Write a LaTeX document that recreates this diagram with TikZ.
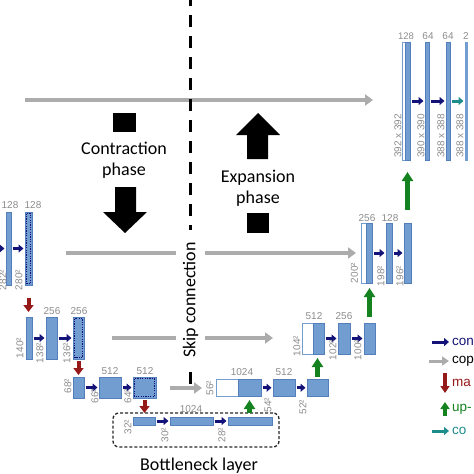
\documentclass[tikz,border=0pt]{standalone}
\usepackage{fontspec}
\setmainfont{Carlito}
\newfontfamily\lblfont{Liberation Sans}
\usetikzlibrary{arrows.meta,fit,calc}
\definecolor{bfill}{RGB}{114,157,209}
\definecolor{bline}{RGB}{84,126,188}
\definecolor{lgray}{RGB}{140,140,140}
\definecolor{cgray}{RGB}{172,172,172}
\definecolor{cnavy}{RGB}{18,18,120}
\definecolor{cred}{RGB}{150,25,25}
\definecolor{cgreen}{RGB}{20,130,30}
\definecolor{cteal}{RGB}{30,140,140}
\begin{document}
\begin{tikzpicture}[x=1pt,y=-1pt,
 blk/.style={draw=bline, fill=bfill, line width=0.5pt, inner sep=0pt, outer sep=0pt},
 wblk/.style={draw=bfill, fill=white, line width=0.7pt, inner sep=0pt, outer sep=0pt},
 dotbox/.style={draw=cnavy, line width=0.9pt, dash pattern=on 1.2pt off 1.2pt},
 num/.style={font=\lblfont\fontsize{10}{10}\selectfont, text=lgray, inner sep=0pt},
 rnum/.style={num, rotate=90},
 bigtxt/.style={font=\fontsize{18}{21}\selectfont, inner sep=0pt, align=center},
 legtxt/.style={font=\lblfont\fontsize{13.5}{14}\selectfont, inner sep=0pt, anchor=west},
 conv/.style={draw=cnavy, line width=3pt, -{Triangle[length=5pt,width=8pt]}, shorten <=1.5pt, shorten >=1.5pt},
 convt/.style={conv, draw=cteal},
 copyarr/.style={draw=cgray, line width=3.5pt, -{Triangle[length=8pt,width=11pt]}},
 pool/.style={draw=cred, line width=4pt, -{Triangle[length=7pt,width=10pt]}},
 upc/.style={draw=cgreen, line width=4.5pt, -{Triangle[length=9pt,width=11pt]}},
 skipline/.style={draw=black, line width=3pt, dash pattern=on 12pt off 9pt}
]
\useasboundingbox (0,0) rectangle (474,474);

% ---------- blocks ----------
% level 2 left
\node[blk, fit={(6,212)(11,285)}] (l2a) {};
\node[blk, fit={(25,212)(32,285)}] (l2b) {};
% level 3 left
\node[blk, fit={(26,317)(32,359)}] (l3a) {};
\node[blk, fit={(46,317)(57,359)}] (l3b) {};
\node[blk, fit={(73,317)(84,359)}] (l3c) {};
% level 4 left
\node[blk, fit={(73,377)(84,398)}] (l4a) {};
\node[blk, fit={(99,377)(121,398)}] (l4b) {};
\node[blk, fit={(133,377)(156,398)}] (l4c) {};
% bottleneck
\node[blk, fit={(133,417)(155,425)}] (bn1) {};
\node[blk, fit={(170,417)(213,425)}] (bn2) {};
\node[blk, fit={(228,417)(272,425)}] (bn3) {};
% level 4 right
\node[wblk, fit={(216,379.5)(238,396)}] (r4w) {};
\node[blk, fit={(238,379.5)(261,396)}] (r4a) {};
\node[blk, fit={(273,379.5)(295,396)}] (r4b) {};
\node[blk, fit={(307,379.5)(328,396)}] (r4c) {};
% level 3 right
\node[wblk, fit={(302,323)(313,354)}] (r3w) {};
\node[blk, fit={(313,323)(324,354)}] (r3a) {};
\node[blk, fit={(338,323)(350,354)}] (r3b) {};
\node[blk, fit={(364,323)(375,354)}] (r3c) {};
% level 2 right
\node[wblk, fit={(361,223)(366,283)}] (r2w) {};
\node[blk, fit={(366,223)(372,283)}] (r2a) {};
\node[blk, fit={(386,223)(392,283)}] (r2b) {};
\node[blk, fit={(404,223)(411,283)}] (r2c) {};
% level 1 right
\node[wblk, fit={(402,42)(405,160)}] (t0w) {};
\node[blk, fit={(405,42)(410,160)}] (t1) {};
\node[blk, fit={(425,42)(429,160)}] (t2) {};
\node[blk, fit={(446,42)(450,160)}] (t3) {};
\node[blk, draw=bfill, fit={(465,42)(467,160)}] (t4) {};

% dotted inner frames
\draw[dotbox] ([shift={(1.5,1.5)}]l2b.north west) rectangle ([shift={(-1.5,-1.5)}]l2b.south east);
\draw[dotbox] ([shift={(1.5,1.5)}]l3c.north west) rectangle ([shift={(-1.5,-1.5)}]l3c.south east);
\draw[dotbox] ([shift={(1.5,1.5)}]l4c.north west) rectangle ([shift={(-1.5,-1.5)}]l4c.south east);

% ---------- copy (skip) arrows ----------
\coordinate (c1s) at (25,100);
\coordinate (c2s) at (66,253);
\coordinate (c3s) at (112,338);
\coordinate (c4s) at (170,388);
\draw[copyarr, shorten >=29pt] (c1s) -- (t0w.west |- c1s);
\draw[copyarr, shorten >=5pt] (c2s) -- (r2w.west |- c2s);
\draw[copyarr, shorten >=29pt] (c3s) -- (r3w.west |- c3s);
\draw[copyarr, shorten >=14pt] (c4s) -- (r4w.west |- c4s);

% ---------- dashed separation line ----------
\coordinate (dl0) at (190,384);
\coordinate (dl1) at (190,0);
\draw[skipline] (dl0) -- (dl1);
\node[bigtxt, rotate=90, fill=white, inner xsep=12pt, inner ysep=7pt] (skip) at (190.5,300) {Skip connection};

% ---------- phase arrows ----------
\fill (113,113) rectangle (136,132);
\fill (115,187) -- (136,187) -- (136,212) -- (147,212) -- (125,233) -- (103,212) -- (115,212) -- cycle;
\node[bigtxt] (ctxt) at (124,160) {Contraction\\phase};
\fill (258,113) -- (280,135) -- (268,135) -- (268,159) -- (247,159) -- (247,135) -- (236,135) -- cycle;
\fill (247,213) rectangle (269,233);
\node[bigtxt] (etxt) at (258,188) {Expansion\\phase};

% bottleneck frame and title
\node[draw=black!85, line width=1.3pt, dash pattern=on 3pt off 2pt, rounded corners=6pt, inner sep=0pt, fit={(113,413)(279,447)}] (bnbox) {};
\node[bigtxt] (bntxt) at (199,466) {Bottleneck layer};

% ---------- conv arrows ----------
\coordinate (l2in) at (-8,248.5);
\draw[conv, shorten <=0pt] (l2in) -- (l2a.west);
\draw[conv] (l2a.east) -- (l2b.west);
\draw[conv] (l3a.east) -- (l3b.west);
\draw[conv] (l3b.east) -- (l3c.west);
\draw[conv] (l4a.east) -- (l4b.west);
\draw[conv] (l4b.east) -- (l4c.west);
\draw[conv] (bn1.east) -- (bn2.west);
\draw[conv] (bn2.east) -- (bn3.west);
\draw[conv] (r4a.east) -- (r4b.west);
\draw[conv] (r4b.east) -- (r4c.west);
\draw[conv] (r3a.east) -- (r3b.west);
\draw[conv] (r3b.east) -- (r3c.west);
\draw[conv] (r2a.east) -- (r2b.west);
\draw[conv] (r2b.east) -- (r2c.west);
\draw[conv] (t1.east) -- (t2.west);
\draw[conv] (t2.east) -- (t3.west);
\draw[convt] (t3.east) -- (t4.west);

% ---------- max pool ----------
\draw[pool, shorten <=13pt, shorten >=5pt] (l2b.south) -- (l2b.south |- l3a.north);
\draw[pool, shorten <=2pt, shorten >=2pt] (l3c.south) -- (l3c.south |- l4a.north);
\draw[pool, shorten <=2pt, shorten >=4pt] (l4c.south) -- (l4c.south |- bn1.north);

% ---------- up-conv ----------
\draw[upc, shorten <=4pt, shorten >=4pt] (bn3.north -| r4a.south) -- (r4a.south);
\draw[upc, shorten <=3pt, shorten >=4pt] (r4c.north) -- (r4c.north |- r3a.south);
\draw[upc, shorten <=6pt, shorten >=5pt] (r3c.north) -- (r3c.north |- r2a.south);
\draw[upc, shorten <=13pt, shorten >=12pt] (r2c.north) -- (r2c.north |- t1.south);

% ---------- numbers ----------
\node[num, font=\lblfont\fontsize{9.5}{10}\selectfont] (n1) at (406,36) {128};
\node[num] (n2) at (428,36) {64};
\node[num] (n3) at (448,36) {64};
\node[num] (n4) at (466,36) {2};
\node[rnum] (n5) at (398,136) {392 x 392};
\node[rnum] (n6) at (421,136) {390 x 390};
\node[rnum] (n7) at (441,136) {388 x 388};
\node[rnum] (n8) at (460,136) {388 x 388};
\node[num] (n9) at (367,218) {256};
\node[num] (n10) at (390,218) {128};
\node[rnum] (n11) at (354.5,273) {200²};
\node[rnum] (n12) at (381,276) {198²};
\node[rnum] (n13) at (400,276) {196²};
\node[num] (n14) at (314,316) {512};
\node[num] (n15) at (344,316) {256};
\node[rnum] (n16) at (297,346) {104²};
\node[rnum] (n17) at (333,350) {102²};
\node[rnum] (n18) at (358,350) {100²};
\node[num] (n19) at (242,372) {1024};
\node[num] (n20) at (284,372) {512};
\node[rnum] (n21) at (210,388) {56²};
\node[rnum] (n22) at (268,405) {54²};
\node[rnum] (n23) at (303,407) {52²};
\node[num] (n24) at (191,409) {1024};
\node[rnum] (n25) at (128,427) {32²};
\node[rnum] (n26) at (165,435) {30²};
\node[rnum] (n27) at (222,435) {28²};
\node[num] (n28) at (110,371) {512};
\node[num] (n29) at (145,371) {512};
\node[rnum] (n30) at (68,386) {68²};
\node[rnum] (n31) at (95,396) {66²};
\node[rnum] (n32) at (128,396) {64²};
\node[num] (n33) at (52,311) {256};
\node[num] (n34) at (79,311) {256};
\node[rnum] (n35) at (20,348) {140²};
\node[rnum] (n36) at (40,353) {138²};
\node[rnum] (n37) at (67,353) {136²};
\node[num] (n38) at (10,205) {128};
\node[num] (n39) at (33,205) {128};
\node[rnum] (n40) at (3,280) {282²};
\node[rnum] (n41) at (19,280) {280²};

% ---------- legend ----------
\node[legtxt, text=cnavy] (lg1) at (452,342) {con};
\node[legtxt, text=black] (lg2) at (452,361) {cop};
\node[legtxt, text=cred] (lg3) at (452,383) {ma};
\node[legtxt, text=cgreen] (lg4) at (452,409) {up-};
\node[legtxt, text=cteal] (lg5) at (452,431) {co};
\coordinate (lg1s) at (432,342);
\coordinate (lg2s) at (429,361);
\coordinate (lg3s) at (445,373);
\coordinate (lg3e) at (445,393);
\coordinate (lg4s) at (445,416);
\coordinate (lg4e) at (445,402);
\coordinate (lg5s) at (432,431);
\draw[conv, shorten <=0pt, shorten >=3pt] (lg1s) -- (lg1.west);
\draw[copyarr, line width=3pt, -{Triangle[length=7pt,width=9pt]}, shorten >=3pt] (lg2s) -- (lg2.west);
\draw[pool, line width=3.5pt, -{Triangle[length=7pt,width=9pt]}] (lg3s) -- (lg3e);
\draw[upc, line width=3.5pt, -{Triangle[length=7pt,width=9pt]}] (lg4s) -- (lg4e);
\draw[convt, shorten <=0pt, shorten >=3pt] (lg5s) -- (lg5.west);
\end{tikzpicture}
\end{document}
